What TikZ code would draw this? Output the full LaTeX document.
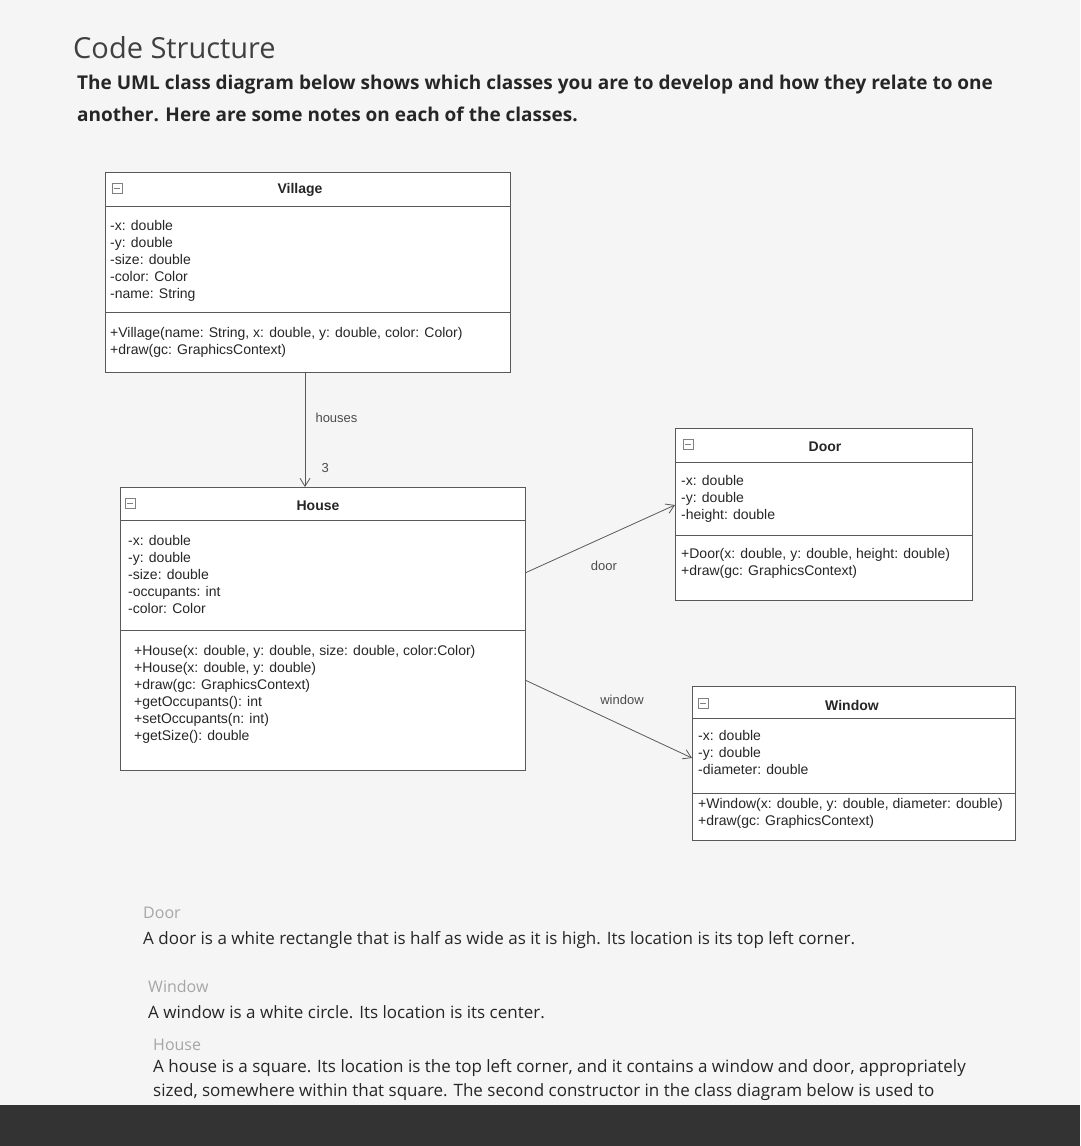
\documentclass[tikz,border=0pt]{standalone}
\usepackage{fontspec}
\setmainfont{Open Sans}
\newfontfamily\umlfont{Liberation Sans}
\usetikzlibrary{arrows.meta}
\begin{document}
\begin{tikzpicture}[x=1pt,y=-1pt,
  box/.style={draw=gray!70!black,line width=0.8pt,fill=white},
  uml/.style={font=\umlfont\fontsize{14}{17}\selectfont,anchor=north west,align=left,inner sep=0pt,text=black!85},
  hdr/.style={font=\umlfont\bfseries\fontsize{14}{17}\selectfont,text=black!85},
  prose/.style={font=\fontsize{17}{22}\selectfont,anchor=base west,inner sep=0pt,text=black!85},
  note/.style={font=\fontsize{16}{20}\selectfont,anchor=base west,inner sep=0pt,text=gray!70},
  conn/.style={draw=gray!70!black,line width=0.8pt},
  lbl/.style={font=\umlfont\fontsize{13}{15}\selectfont,text=gray!60!black}]
\fill[gray!8] (0,0) rectangle (1080,1146);
\fill[black!80] (0,1105) rectangle (1080,1146);
\node[anchor=base west,inner sep=0pt,font=\fontsize{29}{34}\selectfont,text=black!75] (title) at (73,58) {Code Structure};
\node[prose,font=\bfseries\fontsize{19}{24}\selectfont] (p1) at (77,89) {The UML class diagram below shows which classes you are to develop and how they relate to one};
\node[prose,font=\bfseries\fontsize{19}{24}\selectfont] (p2) at (77,121) {another. Here are some notes on each of the classes.};
% Village
\draw[box] (105,172) rectangle (510,372);
\draw[conn] (105,206) -- (510,206) (105,312) -- (510,312);
\draw[gray] (112,183) rectangle (122,193) (114,188) -- (120,188);
\node[hdr] (village) at (300,190) {Village};
\node[uml] (va) at (110,220) {-x: double\\-y: double\\-size: double\\-color: Color\\-name: String};
\node[uml] (vm) at (110,327) {+Village(name: String, x: double, y: double, color: Color)\\+draw(gc: GraphicsContext)};
% House
\draw[box] (120,487) rectangle (525,770);
\draw[conn] (120,520) -- (525,520) (120,630) -- (525,630);
\draw[gray] (125,498) rectangle (135,508) (127,503) -- (133,503);
\node[hdr] (house) at (318,506) {House};
\node[uml] (ha) at (128,535) {-x: double\\-y: double\\-size: double\\-occupants: int\\-color: Color};
\node[uml] (hm) at (134,645) {+House(x: double, y: double, size: double, color:Color)\\+House(x: double, y: double)\\+draw(gc: GraphicsContext)\\+getOccupants(): int\\+setOccupants(n: int)\\+getSize(): double};
% Door
\draw[box] (675,428) rectangle (972,600);
\draw[conn] (675,462) -- (972,462) (675,535) -- (972,535);
\draw[gray] (683,439) rectangle (693,449) (685,444) -- (691,444);
\node[hdr] (door) at (825,447) {Door};
\node[uml] (da) at (681,475) {-x: double\\-y: double\\-height: double};
\node[uml] (dm) at (681,548) {+Door(x: double, y: double, height: double)\\+draw(gc: GraphicsContext)};
% Window
\draw[box] (692,686) rectangle (1015,840);
\draw[conn] (692,718) -- (1015,718) (692,793) -- (1015,793);
\draw[gray] (698,698) rectangle (708,708) (700,703) -- (706,703);
\node[hdr] (window) at (852,705) {Window};
\node[uml] (wa) at (698,730) {-x: double\\-y: double\\-diameter: double};
\node[uml] (wm) at (698,798) {+Window(x: double, y: double, diameter: double)\\+draw(gc: GraphicsContext)};
% connectors
\coordinate (vb) at (305,372);
\coordinate (ht) at (305,487);
\coordinate (hd) at (525,573);
\coordinate (dl) at (675,505);
\coordinate (hw) at (525,680);
\coordinate (wl) at (692,758);
\draw[conn,-{Straight Barb[length=8pt,width=10pt]}] (vb) -- (ht);
\node[lbl,anchor=west] (lh) at (312,418) {houses};
\node[lbl,anchor=west] (l3) at (318,468) {3};
\draw[conn,-{Straight Barb[length=8pt,width=10pt]}] (hd) -- (dl);
\node[lbl] (ld) at (604,566) {door};
\draw[conn,-{Straight Barb[length=8pt,width=10pt]}] (hw) -- (wl);
\node[lbl] (lw) at (622,700) {window};
% notes
\node[note] (n1) at (143,918) {Door};
\node[prose] (t1) at (143,944) {A door is a white rectangle that is half as wide as it is high. Its location is its top left corner.};
\node[note] (n2) at (148,992) {Window};
\node[prose] (t2) at (148,1018) {A window is a white circle. Its location is its center.};
\node[note] (n3) at (153,1050) {House};
\node[prose] (t3a) at (153,1072) {A house is a square. Its location is the top left corner, and it contains a window and door, appropriately};
\node[prose] (t4) at (153,1096) {sized, somewhere within that square. The second constructor in the class diagram below is used to};
\end{tikzpicture}
\end{document}
